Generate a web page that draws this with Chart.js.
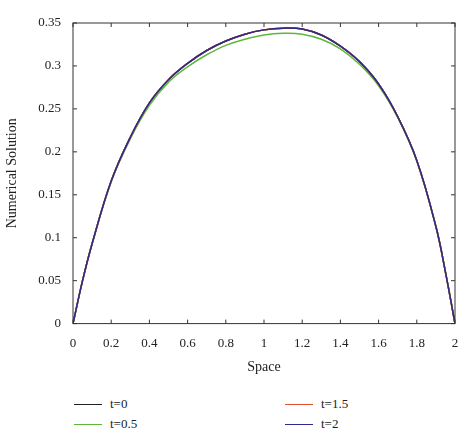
<!DOCTYPE html>
<html><head><meta charset="utf-8">
<script src="https://cdn.jsdelivr.net/npm/chart.js@4"></script>
<style>
body{margin:0;background:#fff;font-family:"Liberation Serif",serif;}
#wrap{position:relative;width:474px;height:380px;}
#leg{position:absolute;left:0;top:396px;width:474px;font-size:13px;color:#222;}
.it{position:absolute;display:flex;align-items:center;}
.ln{display:inline-block;width:28px;height:0;border-top:1.5px solid;margin-right:8px;}
</style></head><body>
<div id="wrap"><canvas id="c" width="474" height="380"></canvas></div>
<div id="leg"></div>
<script>
const xs=[0,0.05,0.1,0.2,0.3,0.4,0.5,0.6,0.7,0.8,0.9,1.0,1.1,1.2,1.3,1.4,1.5,1.6,1.7,1.8,1.9,1.95,2];
const yT0=[0,0.05,0.093,0.166,0.217,0.257,0.284,0.303,0.318,0.329,0.337,0.342,0.344,0.343,0.336,0.323,0.305,0.279,0.241,0.19,0.113,0.06,0];
const yT05=[0,0.05,0.093,0.165,0.215,0.254,0.281,0.299,0.313,0.324,0.331,0.336,0.338,0.337,0.331,0.32,0.302,0.277,0.24,0.189,0.113,0.06,0];
const yT15=yT0.slice();
const yT2=yT0.slice();
const names=["t=0","t=0.5","t=1.5","t=2"];
const colors=["#222222","#5cb83a","#e0502a","#2e2a8c"];
const series=[yT0,yT05,yT15,yT2];
const xTicks=[0,0.2,0.4,0.6,0.8,1,1.2,1.4,1.6,1.8,2];
const yTicks=[0,0.05,0.1,0.15,0.2,0.25,0.3,0.35];
const tickPlugin={id:'tk',afterDraw(ch){const c=ch.ctx,a=ch.chartArea,x=ch.scales.x,y=ch.scales.y;c.save();c.strokeStyle='#333';c.lineWidth=1;
c.strokeRect(a.left,a.top,a.right-a.left,a.bottom-a.top);c.beginPath();
xTicks.forEach(v=>{const p=x.getPixelForValue(v);c.moveTo(p,a.bottom);c.lineTo(p,a.bottom-4);c.moveTo(p,a.top);c.lineTo(p,a.top+4);});
yTicks.forEach(v=>{const p=y.getPixelForValue(v);c.moveTo(a.left,p);c.lineTo(a.left+4,p);c.moveTo(a.right,p);c.lineTo(a.right-4,p);});
c.stroke();c.restore();}};
const ff={family:"Liberation Serif",size:13};
new Chart(document.getElementById('c'),{type:'line',
data:{datasets:series.map((s,i)=>({label:names[i],data:xs.map((x,j)=>({x:x,y:s[j]})),borderColor:colors[i],borderWidth:1.5,pointRadius:0,tension:0.4,order:3-i}))},
options:{responsive:false,animation:false,layout:{padding:{top:23,right:19,left:0,bottom:0}},
plugins:{legend:{display:false},tooltip:{enabled:false}},
scales:{x:{type:'linear',min:0,max:2,afterBuildTicks(s){s.ticks=xTicks.map(v=>({value:v}));},grid:{display:false},border:{display:false},
ticks:{color:'#222',font:ff,padding:4,maxRotation:0,callback:v=>String(v)},title:{display:true,text:'Space',color:'#222',font:{family:"Liberation Serif",size:14},padding:{top:4}}},
y:{min:0,max:0.35,afterBuildTicks(s){s.ticks=yTicks.map(v=>({value:v}));},afterFit(s){s.width=73;},grid:{display:false},border:{display:false},
ticks:{color:'#222',font:ff,padding:4,callback:v=>String(v)},title:{display:true,text:'Numerical Solution',color:'#222',font:{family:"Liberation Serif",size:14},padding:{bottom:2}}}}},
plugins:[tickPlugin]});
const leg=document.getElementById('leg');
const pos=[[74,0],[74,20],[285,0],[285,20]];
names.forEach((n,i)=>{const d=document.createElement('div');d.className='it';d.style.left=pos[i][0]+'px';d.style.top=pos[i][1]+'px';
d.innerHTML='<span class="ln" style="border-color:'+colors[i]+'"></span>'+n;leg.appendChild(d);});
</script></body></html>
